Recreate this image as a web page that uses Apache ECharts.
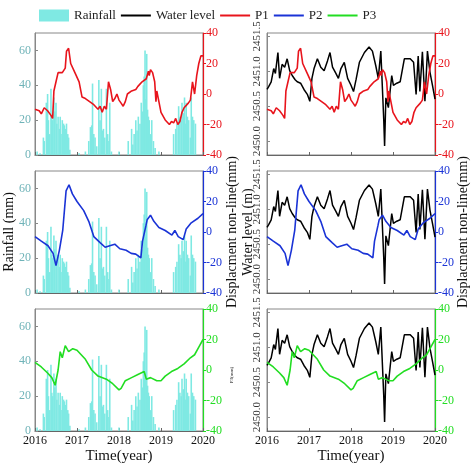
<!DOCTYPE html>
<html>
<head>
<meta charset="utf-8">
<script src="https://cdn.jsdelivr.net/npm/echarts@6/dist/echarts.min.js"></script>
<style>html,body{margin:0;padding:0;background:#fff}#main{width:474px;height:467px}</style>
</head>
<body>
<div id="main"></div>
<script>
// rainfall (mm), time in years
var rainT = [2016.05,2016.12,2016.2,2016.22,2016.27,2016.3,2016.32,2016.35,2016.38,2016.4,2016.42,2016.45,2016.47,2016.5,2016.52,2016.55,2016.58,2016.6,2016.62,2016.65,2016.68,2016.7,2016.72,2016.75,2016.78,2016.8,2016.83,2017.05,2017.2,2017.28,2017.32,2017.35,2017.37,2017.4,2017.43,2017.47,2017.52,2017.55,2017.58,2017.6,2017.63,2017.66,2017.7,2017.73,2017.76,2017.78,2017.82,2018.0,2018.22,2018.3,2018.33,2018.36,2018.4,2018.43,2018.46,2018.5,2018.53,2018.56,2018.58,2018.6,2018.62,2018.64,2018.66,2018.68,2018.7,2018.72,2018.75,2018.78,2018.82,2018.86,2018.95,2019.3,2019.35,2019.38,2019.42,2019.45,2019.48,2019.5,2019.53,2019.56,2019.58,2019.6,2019.63,2019.66,2019.7,2019.72,2019.75,2019.78,2019.82];
var rainV = [2,1,10,8,30,35,20,12,38,22,20,33,25,30,18,22,15,22,12,20,18,17,15,18,12,10,3,1,2,8,16,17,41,12,10,5,43,20,38,14,15,10,38,12,8,30,2,2,8,15,6,12,20,14,22,18,30,25,40,45,60,32,58,26,22,20,12,20,8,4,2,12,15,18,28,22,20,30,24,33,18,30,22,20,10,33,22,20,18];

var p1T = [2016,2016.1,2016.15,2016.22,2016.3,2016.38,2016.42,2016.45,2016.5,2016.55,2016.65,2016.72,2016.75,2016.8,2016.85,2016.95,2017.05,2017.12,2017.2,2017.3,2017.4,2017.5,2017.55,2017.6,2017.65,2017.7,2017.75,2017.8,2017.85,2017.9,2017.95,2018,2018.05,2018.1,2018.15,2018.2,2018.3,2018.4,2018.45,2018.55,2018.65,2018.7,2018.72,2018.75,2018.8,2018.85,2018.88,2018.9,2018.95,2019,2019.1,2019.2,2019.25,2019.3,2019.35,2019.4,2019.45,2019.5,2019.55,2019.65,2019.7,2019.75,2019.8,2019.85,2019.9,2019.95,2020];
var p1V = [-10,-11,-13,-9,-11,-14,-16,2,8,14,14,17,28,30,20,14,8,-2,-3,-5,-7,-10,-8,-12,-8,-10,8,3,-5,-3,0,-4,-6,-8,-5,0,2,3,5,8,10,15,12,16,14,8,-5,2,-5,-12,-17,-20,-18,-19,-16,-20,-18,-12,-9,-6,-4,8,0,12,20,25,25];

var p2T = [2016,2016.15,2016.31,2016.43,2016.5,2016.58,2016.66,2016.74,2016.81,2016.89,2017,2017.16,2017.28,2017.4,2017.55,2017.67,2017.78,2017.9,2018.02,2018.17,2018.29,2018.4,2018.52,2018.56,2018.64,2018.67,2018.75,2018.83,2018.95,2019.1,2019.26,2019.33,2019.41,2019.53,2019.6,2019.72,2019.88,2020];
var p2V = [-3,-6,-9,-14,-22,-12,1,27,31,25,20,14,7,-3,-7,-10,-9,-8,-11,-12,-14,-14.5,-17,-6,4,8,11,7,3,1,-2,1,-3,-5,2,6,9,12];

var p3T = [2016,2016.15,2016.3,2016.4,2016.48,2016.55,2016.6,2016.65,2016.72,2016.8,2016.9,2017,2017.1,2017.2,2017.35,2017.5,2017.7,2017.85,2018,2018.05,2018.15,2018.3,2018.45,2018.6,2018.65,2018.75,2018.9,2019,2019.1,2019.25,2019.4,2019.55,2019.7,2019.8,2019.9,2020];
var p3V = [5,2,-2,-5,-10,0,12,8,16,12,14,13,10,7,0,-4,-6,-9,-13,-12,-7,-5,-3,-1,-6,-5,-7,-7,-4,-1,1,4,8,10,15,20];

var wlT = [2016,2016.04,2016.1,2016.16,2016.2,2016.26,2016.3,2016.36,2016.42,2016.48,2016.54,2016.6,2016.67,2016.72,2016.8,2016.88,2016.96,2017.02,2017.07,2017.12,2017.2,2017.28,2017.36,2017.44,2017.5,2017.56,2017.64,2017.7,2017.76,2017.84,2017.92,2018,2018.06,2018.12,2018.2,2018.32,2018.43,2018.51,2018.59,2018.65,2018.71,2018.78,2018.8,2018.83,2018.89,2018.97,2019.01,2019.09,2019.17,2019.27,2019.41,2019.49,2019.55,2019.6,2019.64,2019.7,2019.76,2019.82,2019.88,2019.94,2020];
var wlV = [2450.74,2450.78,2450.85,2451.04,2450.97,2451.27,2450.9,2451.1,2451.06,2451.18,2451.01,2450.94,2450.88,2450.85,2450.83,2450.74,2450.67,2450.57,2450.9,2451.04,2451.18,2451.06,2451.01,2451.15,2451.27,2451.06,2450.97,2450.9,2451.04,2451.13,2450.9,2450.8,2450.71,2450.88,2451.13,2451.27,2451.35,2451.29,2451.08,2450.9,2451.29,2450.3,2449.93,2450.62,2450.48,2450.94,2450.8,2450.83,2450.85,2451.18,2451.18,2451.13,2450.67,2451.22,2450.71,2451.28,2450.57,2451.29,2450.99,2450.8,2450.6];

var pNames = ['P1','P2','P3'];
var pColors = ['#e8141c','#1a33d6','#22dd22'];
var pData = [[p1T,p1V],[p2T,p2V],[p3T,p3V]];
var rainColor = '#7fe9e3';
var font = 'Liberation Serif';
var tops = [33,171,309];
var lefts = [35,267];

function pairs(t, v) {
  return t.map(function (x, i) { return [x, v[i]]; });
}

var grids = [], xAxes = [], yAxes = [], series = [];
for (var r = 0; r < 3; r++) {
  for (var c = 0; c < 2; c++) {
    var g = grids.length;
    grids.push({left: lefts[c], top: tops[r], width: 168, height: 122, show: true, borderColor: '#888', borderWidth: 1});
    xAxes.push({
      type: 'value', gridIndex: g, min: 2016, max: 2020, interval: 1,
      axisLine: {onZero: false, lineStyle: {color: '#666'}},
      axisTick: {inside: true, length: 3, lineStyle: {color: '#666'}},
      axisLabel: {show: r == 2, color: '#111', fontFamily: font, fontSize: 12, margin: 4,
        formatter: function (v) { return String(v); }},
      splitLine: {show: false}
    });
    if (c == 0) {
      yAxes.push({
        type: 'value', gridIndex: g, min: 0, max: 70, position: 'left',
        axisLine: {show: true, onZero: false, lineStyle: {color: '#888'}},
        axisTick: {show: true, inside: true, length: 3, customValues: [0,20,40,60]},
        axisLabel: {color: '#6fb3b8', fontFamily: font, fontSize: 12, margin: 4, customValues: [0,20,40,60]},
        splitLine: {show: false}
      });
    } else {
      yAxes.push({
        type: 'value', gridIndex: g, min: 2449.8, max: 2451.55, position: 'left',
        axisLine: {show: true, onZero: false, lineStyle: {color: '#888'}},
        axisTick: {show: true, inside: true, length: 3, customValues: [2450,2450.5,2451,2451.5]},
        axisLabel: {color: '#333', fontFamily: font, fontSize: 11, margin: 4, rotate: 90,
          customValues: [2450,2450.5,2451,2451.5],
          formatter: function (v) { return v.toFixed(1); }},
        splitLine: {show: false}
      });
    }
    var leftIdx = yAxes.length - 1;
    yAxes.push({
      type: 'value', gridIndex: g, min: -40, max: 40, interval: 20, position: 'right',
      axisLine: {show: true, onZero: false, lineStyle: {color: pColors[r], width: 1.2}},
      axisTick: {show: true, inside: false, length: 3},
      axisLabel: {color: pColors[r], fontFamily: font, fontSize: 12, margin: 3},
      splitLine: {show: false}
    });
    var rightIdx = yAxes.length - 1;
    if (c == 0) {
      series.push({name: 'Rainfall', type: 'bar', xAxisIndex: g, yAxisIndex: leftIdx,
        data: pairs(rainT, rainV), barWidth: 1.6, itemStyle: {color: rainColor}, z: 1});
    } else {
      series.push({name: 'Water level', type: 'line', xAxisIndex: g, yAxisIndex: leftIdx,
        data: pairs(wlT, wlV), symbol: 'none', lineStyle: {color: '#000', width: 1.5}, itemStyle: {color: '#000'}, z: 2});
    }
    series.push({name: pNames[r], type: 'line', xAxisIndex: g, yAxisIndex: rightIdx,
      data: pairs(pData[r][0], pData[r][1]), symbol: 'none',
      lineStyle: {color: pColors[r], width: 1.6}, itemStyle: {color: pColors[r]}, z: 3});
  }
}

function vtext(x, y, txt, size) {
  return {type: 'text', x: x, y: y, rotation: Math.PI / 2,
    style: {text: txt, fill: '#111', font: size + 'px ' + font, align: 'center', verticalAlign: 'middle'}};
}

var noDot = {opacity: 0};
var option = {
  animation: false,
  legend: {
    top: 4, left: 34, itemGap: 4, itemWidth: 30, itemHeight: 12,
    textStyle: {fontFamily: font, fontSize: 13, color: '#222'},
    data: [
      {name: 'Rainfall', icon: 'rect'},
      {name: 'Water level', itemStyle: noDot},
      {name: 'P1', itemStyle: noDot},
      {name: 'P2', itemStyle: noDot},
      {name: 'P3', itemStyle: noDot}
    ]
  },
  grid: grids,
  xAxis: xAxes,
  yAxis: yAxes,
  series: series,
  graphic: [
    vtext(9, 232, 'Rainfall (mm)', 14),
    vtext(232, 232, 'Displacment non-line(mm)', 14),
    vtext(248, 232, 'Water level (m)', 14),
    vtext(463, 232, 'Displacment non-line(mm)', 14),
    vtext(232, 375, 'P3(mm)', 5),
    {type: 'text', x: 119, y: 456, style: {text: 'Time(year)', fill: '#111', font: '15px ' + font, align: 'center', verticalAlign: 'middle'}},
    {type: 'text', x: 351, y: 456, style: {text: 'Time(year)', fill: '#111', font: '15px ' + font, align: 'center', verticalAlign: 'middle'}}
  ]
};

var chart = echarts.init(document.getElementById('main'));
chart.setOption(option);
</script>
</body>
</html>
